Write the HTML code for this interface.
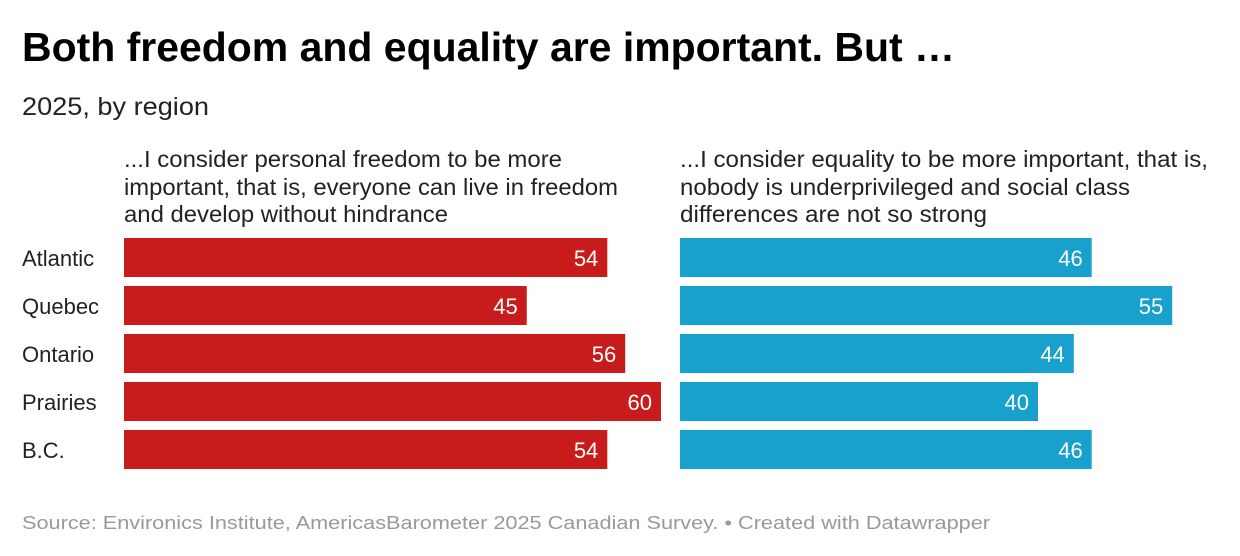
<!DOCTYPE html>
<html><head><meta charset="utf-8"><style>
body{margin:0;background:#fff;}
svg{display:block;font-family:"Liberation Sans",sans-serif;}
</style></head><body>
<svg id="chart" width="1240" height="556">
<text x="22" y="61" font-size="41" font-weight="bold" fill="#000" textLength="933" lengthAdjust="spacingAndGlyphs">Both freedom and equality are important. But …</text>
<text x="22" y="115" font-size="25" fill="#222" textLength="187" lengthAdjust="spacingAndGlyphs">2025, by region</text>
<g font-size="23" fill="#222">
<text x="124" y="167" textLength="438" lengthAdjust="spacingAndGlyphs">...I consider personal freedom to be more</text>
<text x="124" y="195" textLength="494" lengthAdjust="spacingAndGlyphs">important, that is, everyone can live in freedom</text>
<text x="124" y="222" textLength="324" lengthAdjust="spacingAndGlyphs">and develop without hindrance</text>
</g>
<g font-size="23" fill="#222">
<text x="680" y="167" textLength="528" lengthAdjust="spacingAndGlyphs">...I consider equality to be more important, that is,</text>
<text x="680" y="195" textLength="450" lengthAdjust="spacingAndGlyphs">nobody is underprivileged and social class</text>
<text x="680" y="222" textLength="307" lengthAdjust="spacingAndGlyphs">differences are not so strong</text>
</g>
<g id="bars"></g>
<text x="22" y="529" font-size="18" fill="#999" textLength="968" lengthAdjust="spacingAndGlyphs">Source: Environics Institute, AmericasBarometer 2025 Canadian Survey. • Created with Datawrapper</text>
</svg>
<script>
const regions = ["Atlantic","Quebec","Ontario","Prairies","B.C."];
const freedomValues = [54,45,56,60,54];
const equalityValues = [46,55,44,40,46];
const NS="http://www.w3.org/2000/svg";
const g=document.getElementById('bars');
const scale=8.95, rowTop=238, rowStep=48, barH=39;
function yPos(i){return rowTop+i*rowStep;}
function xLen(v){return v*scale;}
function mk(tag,attrs){const e=document.createElementNS(NS,tag);for(const k in attrs)e.setAttribute(k,attrs[k]);return e;}
regions.forEach((r,i)=>{
  const y=yPos(i);
  const lab=mk('text',{x:22,y:y+28,'font-size':22,fill:'#222'});
  
  
  lab.textContent=r;g.appendChild(lab);
  [[124,freedomValues[i],'#c81c1c','freedom'],[680,equalityValues[i],'#18a1cd','equality']].forEach(([x0,v,c,n])=>{
    const w=xLen(v);
    const b=mk('rect',{x:x0,y:y,width:w,height:barH,fill:c});
    
    
    g.appendChild(b);
    const t=mk('text',{x:x0+w-9,y:y+28,'font-size':22,fill:'#fff','text-anchor':'end'});
    
    
    t.textContent=v;g.appendChild(t);
  });
});
</script>
</body></html>
